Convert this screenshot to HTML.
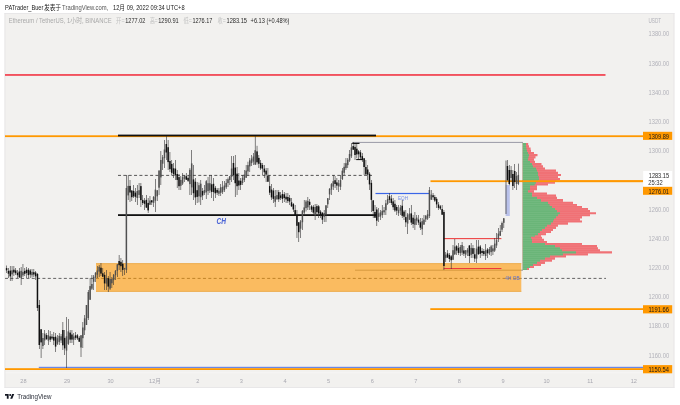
<!DOCTYPE html><html><head><meta charset="utf-8"><style>
html,body{margin:0;padding:0;background:#fff;width:680px;height:405px;overflow:hidden}
svg{position:absolute;left:0;top:0}
text{font-family:"Liberation Sans","Noto Sans CJK SC",sans-serif}
</style></head><body>
<svg width="680" height="405" viewBox="0 0 680 405">
<rect x="4.5" y="13" width="669.9" height="375" fill="#f2f1ef"/>
<rect x="4.5" y="372.5" width="669.9" height="0.6" fill="#f8f8f8"/>
<g fill="#e7e6e7"><rect x="4.5" y="13" width="669.9" height="0.9"/><rect x="4.5" y="387.1" width="669.9" height="0.9"/><rect x="4.5" y="13" width="0.9" height="375"/><rect x="673.5" y="13" width="0.9" height="375"/></g>
<text x="5.1" y="9.7" font-size="7.2" fill="#222" textLength="38.3" lengthAdjust="spacingAndGlyphs">PATrader_Buer</text>
<text x="43.9" y="9.7" font-size="6.6" fill="#222" textLength="17.2" lengthAdjust="spacingAndGlyphs">发表于</text>
<text x="62.1" y="9.7" font-size="7.2" fill="#555" textLength="46.1" lengthAdjust="spacingAndGlyphs">TradingView.com,</text>
<text x="113" y="9.7" font-size="7.2" fill="#222" textLength="71.6" lengthAdjust="spacingAndGlyphs">12月 09, 2022 09:34 UTC+8</text>
<text x="8.7" y="22.8" font-size="6.8" fill="#a9a9a9" textLength="102.9" lengthAdjust="spacingAndGlyphs">Ethereum / TetherUS, 1小时, BINANCE</text>
<text x="116.1" y="22.8" font-size="6.8" fill="#c2c2c2" textLength="8.6" lengthAdjust="spacingAndGlyphs">开=</text>
<text x="125.3" y="22.8" font-size="6.8" fill="#2a2a2a" textLength="20.0" lengthAdjust="spacingAndGlyphs">1277.02</text>
<text x="150" y="22.8" font-size="6.8" fill="#c2c2c2" textLength="7.6" lengthAdjust="spacingAndGlyphs">高=</text>
<text x="158.2" y="22.8" font-size="6.8" fill="#2a2a2a" textLength="20.6" lengthAdjust="spacingAndGlyphs">1290.91</text>
<text x="183.5" y="22.8" font-size="6.8" fill="#c2c2c2" textLength="8.3" lengthAdjust="spacingAndGlyphs">低=</text>
<text x="192.4" y="22.8" font-size="6.8" fill="#2a2a2a" textLength="20.0" lengthAdjust="spacingAndGlyphs">1276.17</text>
<text x="217.6" y="22.8" font-size="6.8" fill="#c2c2c2" textLength="8.3" lengthAdjust="spacingAndGlyphs">收=</text>
<text x="226.5" y="22.8" font-size="6.8" fill="#2a2a2a" textLength="20.5" lengthAdjust="spacingAndGlyphs">1283.15</text>
<text x="250.6" y="22.8" font-size="6.8" fill="#2a2a2a" textLength="38.8" lengthAdjust="spacingAndGlyphs">+6.13 (+0.48%)</text>
<rect x="5" y="74" width="600.5" height="1.9" fill="#f2525e"/>
<rect x="5" y="135.3" width="638" height="1.8" fill="#ff9800"/>
<rect x="118" y="134.6" width="258" height="1.8" fill="#111"/>
<rect x="352.5" y="141.9" width="170.5" height="1" fill="#9a9aa6"/>
<rect x="355" y="269.7" width="168" height="1" fill="#9a9a9a"/>
<line x1="118" y1="175.4" x2="372" y2="175.4" stroke="#444" stroke-width="0.9" stroke-dasharray="3 2.35"/>
<rect x="118" y="214.2" width="258" height="1.8" fill="#111"/>
<text x="216.4" y="223.6" font-size="8.2" font-style="italic" font-weight="bold" fill="#4a63d6" textLength="9.5" lengthAdjust="spacingAndGlyphs">CH</text>
<rect x="375.5" y="192.9" width="54.5" height="1.2" fill="#3a66e8"/>
<text x="398" y="199.6" font-size="4.8" fill="#4a6be0" fill-opacity="0.75" textLength="10" lengthAdjust="spacingAndGlyphs">EQH</text>
<rect x="430.5" y="180.3" width="212.5" height="1.8" fill="#ff9800"/>
<line x1="5" y1="278.4" x2="606" y2="278.4" stroke="#555" stroke-width="0.9" stroke-dasharray="3 2.35"/>
<rect x="96" y="263.3" width="425.3" height="28.4" fill="#ff9800" fill-opacity="0.6"/>
<rect x="96" y="263.3" width="425.3" height="0.8" fill="#eaa84a"/>
<rect x="96" y="290.9" width="425.3" height="0.8" fill="#eaa84a"/>
<rect x="443.6" y="238.1" width="57.8" height="1.05" fill="#ee3a3a"/>
<rect x="443.6" y="268.0" width="57.8" height="1.05" fill="#ee3a3a"/>
<text x="505.3" y="279.7" font-size="4.8" fill="#5a6fd0" textLength="14.3" lengthAdjust="spacingAndGlyphs">4H OB</text>
<rect x="430.3" y="308.2" width="212.7" height="1.8" fill="#ff9800"/>
<rect x="38.8" y="366.8" width="604.2" height="1.4" fill="#6b87e6"/>
<rect x="5" y="368.2" width="638" height="1.8" fill="#ff9800"/>
<path d="M522.6 143.10 H528.20 V145.30 H529.00 V147.50 H530.60 V149.70 H531.00 V151.90 H534.00 V154.10 H537.50 V156.30 H535.50 V158.50 H534.00 V160.70 H535.00 V163.00 H541.50 V165.20 H543.00 V167.40 H545.00 V169.60 H556.00 V171.80 H558.00 V174.10 H561.00 V176.10 H558.00 V178.10 H560.00 V180.20 H556.00 V182.00 H555.00 V183.80 H548.00 V185.50 H537.00 V187.90 H537.00 V190.20 H534.00 V192.60 H547.00 V194.40 H556.00 V196.70 H557.00 V199.10 H563.00 V201.70 H573.00 V203.90 H577.00 V205.90 H582.00 V208.00 H588.00 V210.00 H590.00 V212.20 H596.00 V214.20 H590.00 V216.30 H582.00 V218.40 H580.00 V220.50 H582.00 V222.60 H568.00 V224.70 H558.00 V226.80 H556.00 V228.90 H553.00 V231.00 H551.00 V233.10 H546.00 V235.20 H541.00 V236.70 H542.00 V238.80 H544.00 V240.90 H547.00 V243.00 H582.00 V245.00 H597.00 V247.20 H598.00 V249.30 H600.00 V251.30 H612.00 V253.40 H588.00 V255.50 H566.00 V257.60 H555.00 V259.70 H552.00 V261.80 H545.00 V263.90 H541.00 V266.00 H534.00 V268.10 H529.00 V270.00 H522.6 Z" fill="#f07175"/>
<path d="M522.6 143.10 H526.00 V145.30 H526.00 V147.50 H526.50 V149.70 H527.00 V151.90 H528.00 V154.10 H529.00 V156.30 H528.50 V158.50 H528.00 V160.70 H530.00 V163.00 H532.00 V165.20 H533.00 V167.40 H536.00 V169.60 H537.00 V171.80 H538.00 V174.10 H538.00 V176.10 H538.80 V178.10 H539.00 V180.20 H538.00 V182.00 H536.00 V183.80 H534.70 V185.50 H530.00 V187.90 H530.00 V190.20 H528.00 V192.60 H532.00 V194.40 H532.00 V196.70 H537.00 V199.10 H541.00 V201.70 H548.00 V203.90 H549.60 V205.90 H552.00 V208.00 H555.00 V210.00 H557.00 V212.20 H560.00 V214.20 H558.00 V216.30 H556.00 V218.40 H554.00 V220.50 H553.00 V222.60 H551.00 V224.70 H547.00 V226.80 H545.00 V228.90 H542.00 V231.00 H540.00 V233.10 H538.00 V235.20 H535.00 V236.70 H531.00 V238.80 H532.00 V240.90 H532.00 V243.00 H545.00 V245.00 H555.00 V247.20 H560.00 V249.30 H562.00 V251.30 H576.00 V253.40 H563.00 V255.50 H550.00 V257.60 H545.00 V259.70 H540.00 V261.80 H537.00 V263.90 H533.00 V266.00 H530.00 V268.10 H527.00 V270.00 H522.6 Z" fill="#6ab578"/>
<rect x="522.6" y="145.18" width="5.60" height="0.24" fill="#ffffff" fill-opacity="0.25"/>
<rect x="522.6" y="147.38" width="6.40" height="0.24" fill="#ffffff" fill-opacity="0.25"/>
<rect x="522.6" y="149.58" width="8.00" height="0.24" fill="#ffffff" fill-opacity="0.25"/>
<rect x="522.6" y="151.78" width="8.40" height="0.24" fill="#ffffff" fill-opacity="0.25"/>
<rect x="522.6" y="153.98" width="11.40" height="0.24" fill="#ffffff" fill-opacity="0.25"/>
<rect x="522.6" y="156.18" width="14.90" height="0.24" fill="#ffffff" fill-opacity="0.25"/>
<rect x="522.6" y="158.38" width="12.90" height="0.24" fill="#ffffff" fill-opacity="0.25"/>
<rect x="522.6" y="160.58" width="11.40" height="0.24" fill="#ffffff" fill-opacity="0.25"/>
<rect x="522.6" y="162.88" width="12.40" height="0.24" fill="#ffffff" fill-opacity="0.25"/>
<rect x="522.6" y="165.08" width="18.90" height="0.24" fill="#ffffff" fill-opacity="0.25"/>
<rect x="522.6" y="167.28" width="20.40" height="0.24" fill="#ffffff" fill-opacity="0.25"/>
<rect x="522.6" y="169.48" width="22.40" height="0.24" fill="#ffffff" fill-opacity="0.25"/>
<rect x="522.6" y="171.68" width="33.40" height="0.24" fill="#ffffff" fill-opacity="0.25"/>
<rect x="522.6" y="173.98" width="35.40" height="0.24" fill="#ffffff" fill-opacity="0.25"/>
<rect x="522.6" y="175.98" width="38.40" height="0.24" fill="#ffffff" fill-opacity="0.25"/>
<rect x="522.6" y="177.98" width="35.40" height="0.24" fill="#ffffff" fill-opacity="0.25"/>
<rect x="522.6" y="180.08" width="37.40" height="0.24" fill="#ffffff" fill-opacity="0.25"/>
<rect x="522.6" y="181.88" width="33.40" height="0.24" fill="#ffffff" fill-opacity="0.25"/>
<rect x="522.6" y="183.68" width="32.40" height="0.24" fill="#ffffff" fill-opacity="0.25"/>
<rect x="522.6" y="185.38" width="25.40" height="0.24" fill="#ffffff" fill-opacity="0.25"/>
<rect x="522.6" y="187.78" width="14.40" height="0.24" fill="#ffffff" fill-opacity="0.25"/>
<rect x="522.6" y="190.08" width="14.40" height="0.24" fill="#ffffff" fill-opacity="0.25"/>
<rect x="522.6" y="192.48" width="11.40" height="0.24" fill="#ffffff" fill-opacity="0.25"/>
<rect x="522.6" y="194.28" width="24.40" height="0.24" fill="#ffffff" fill-opacity="0.25"/>
<rect x="522.6" y="196.58" width="33.40" height="0.24" fill="#ffffff" fill-opacity="0.25"/>
<rect x="522.6" y="198.98" width="34.40" height="0.24" fill="#ffffff" fill-opacity="0.25"/>
<rect x="522.6" y="201.58" width="40.40" height="0.24" fill="#ffffff" fill-opacity="0.25"/>
<rect x="522.6" y="203.78" width="50.40" height="0.24" fill="#ffffff" fill-opacity="0.25"/>
<rect x="522.6" y="205.78" width="54.40" height="0.24" fill="#ffffff" fill-opacity="0.25"/>
<rect x="522.6" y="207.88" width="59.40" height="0.24" fill="#ffffff" fill-opacity="0.25"/>
<rect x="522.6" y="209.88" width="65.40" height="0.24" fill="#ffffff" fill-opacity="0.25"/>
<rect x="522.6" y="212.08" width="67.40" height="0.24" fill="#ffffff" fill-opacity="0.25"/>
<rect x="522.6" y="214.08" width="73.40" height="0.24" fill="#ffffff" fill-opacity="0.25"/>
<rect x="522.6" y="216.18" width="67.40" height="0.24" fill="#ffffff" fill-opacity="0.25"/>
<rect x="522.6" y="218.28" width="59.40" height="0.24" fill="#ffffff" fill-opacity="0.25"/>
<rect x="522.6" y="220.38" width="57.40" height="0.24" fill="#ffffff" fill-opacity="0.25"/>
<rect x="522.6" y="222.48" width="59.40" height="0.24" fill="#ffffff" fill-opacity="0.25"/>
<rect x="522.6" y="224.58" width="45.40" height="0.24" fill="#ffffff" fill-opacity="0.25"/>
<rect x="522.6" y="226.68" width="35.40" height="0.24" fill="#ffffff" fill-opacity="0.25"/>
<rect x="522.6" y="228.78" width="33.40" height="0.24" fill="#ffffff" fill-opacity="0.25"/>
<rect x="522.6" y="230.88" width="30.40" height="0.24" fill="#ffffff" fill-opacity="0.25"/>
<rect x="522.6" y="232.98" width="28.40" height="0.24" fill="#ffffff" fill-opacity="0.25"/>
<rect x="522.6" y="235.08" width="23.40" height="0.24" fill="#ffffff" fill-opacity="0.25"/>
<rect x="522.6" y="236.58" width="18.40" height="0.24" fill="#ffffff" fill-opacity="0.25"/>
<rect x="522.6" y="238.68" width="19.40" height="0.24" fill="#ffffff" fill-opacity="0.25"/>
<rect x="522.6" y="240.78" width="21.40" height="0.24" fill="#ffffff" fill-opacity="0.25"/>
<rect x="522.6" y="242.88" width="24.40" height="0.24" fill="#ffffff" fill-opacity="0.25"/>
<rect x="522.6" y="244.88" width="59.40" height="0.24" fill="#ffffff" fill-opacity="0.25"/>
<rect x="522.6" y="247.08" width="74.40" height="0.24" fill="#ffffff" fill-opacity="0.25"/>
<rect x="522.6" y="249.18" width="75.40" height="0.24" fill="#ffffff" fill-opacity="0.25"/>
<rect x="522.6" y="251.18" width="77.40" height="0.24" fill="#ffffff" fill-opacity="0.25"/>
<rect x="522.6" y="253.28" width="89.40" height="0.24" fill="#ffffff" fill-opacity="0.25"/>
<rect x="522.6" y="255.38" width="65.40" height="0.24" fill="#ffffff" fill-opacity="0.25"/>
<rect x="522.6" y="257.48" width="43.40" height="0.24" fill="#ffffff" fill-opacity="0.25"/>
<rect x="522.6" y="259.58" width="32.40" height="0.24" fill="#ffffff" fill-opacity="0.25"/>
<rect x="522.6" y="261.68" width="29.40" height="0.24" fill="#ffffff" fill-opacity="0.25"/>
<rect x="522.6" y="263.78" width="22.40" height="0.24" fill="#ffffff" fill-opacity="0.25"/>
<rect x="522.6" y="265.88" width="18.40" height="0.24" fill="#ffffff" fill-opacity="0.25"/>
<rect x="522.6" y="267.98" width="11.40" height="0.24" fill="#ffffff" fill-opacity="0.25"/>
<rect x="522" y="180.3" width="121" height="1.8" fill="#ff9800"/>
<rect x="6.31" y="265.5" width="0.6" height="7.5" fill="#333"/>
<rect x="5.86" y="268.1" width="1.5" height="2.3" fill="#101010"/>
<rect x="8.13" y="268.0" width="0.6" height="10.0" fill="#333"/>
<rect x="7.68" y="270.9" width="1.5" height="2.8" fill="#101010"/>
<rect x="9.94" y="266.0" width="0.6" height="15.0" fill="#333"/>
<rect x="9.49" y="270.6" width="1.5" height="5.8" fill="#101010"/>
<rect x="11.76" y="266.0" width="0.6" height="15.0" fill="#333"/>
<rect x="11.31" y="270.3" width="1.5" height="4.1" fill="#505050"/>
<rect x="13.57" y="266.0" width="0.6" height="10.0" fill="#333"/>
<rect x="13.12" y="269.7" width="1.5" height="2.8" fill="#101010"/>
<rect x="15.39" y="268.0" width="0.6" height="7.0" fill="#333"/>
<rect x="14.94" y="270.4" width="1.5" height="2.8" fill="#101010"/>
<rect x="17.20" y="270.0" width="0.6" height="8.0" fill="#333"/>
<rect x="16.75" y="272.8" width="1.5" height="2.4" fill="#101010"/>
<rect x="19.02" y="268.0" width="0.6" height="10.0" fill="#333"/>
<rect x="18.57" y="271.5" width="1.5" height="5.8" fill="#101010"/>
<rect x="20.83" y="267.0" width="0.6" height="18.0" fill="#333"/>
<rect x="20.38" y="270.8" width="1.5" height="7.1" fill="#505050"/>
<rect x="22.65" y="264.0" width="0.6" height="13.0" fill="#333"/>
<rect x="22.20" y="271.8" width="1.5" height="3.6" fill="#505050"/>
<rect x="24.46" y="268.0" width="0.6" height="8.0" fill="#333"/>
<rect x="24.01" y="270.9" width="1.5" height="2.9" fill="#101010"/>
<rect x="26.27" y="267.0" width="0.6" height="11.0" fill="#333"/>
<rect x="25.82" y="269.8" width="1.5" height="3.3" fill="#101010"/>
<rect x="28.09" y="268.0" width="0.6" height="10.0" fill="#333"/>
<rect x="27.64" y="269.7" width="1.5" height="5.4" fill="#101010"/>
<rect x="29.90" y="269.0" width="0.6" height="9.0" fill="#333"/>
<rect x="29.45" y="270.5" width="1.5" height="4.1" fill="#101010"/>
<rect x="31.72" y="269.0" width="0.6" height="8.5" fill="#333"/>
<rect x="31.27" y="271.9" width="1.5" height="3.3" fill="#505050"/>
<rect x="33.53" y="269.0" width="0.6" height="8.0" fill="#333"/>
<rect x="33.08" y="272.2" width="1.5" height="2.3" fill="#101010"/>
<rect x="35.35" y="271.0" width="0.6" height="9.0" fill="#333"/>
<rect x="34.90" y="272.5" width="1.5" height="3.8" fill="#101010"/>
<rect x="37.16" y="273.0" width="0.6" height="38.0" fill="#333"/>
<rect x="36.71" y="274.0" width="1.5" height="34.0" fill="#101010"/>
<rect x="38.98" y="300.0" width="0.6" height="49.0" fill="#333"/>
<rect x="38.53" y="305.0" width="1.5" height="40.0" fill="#101010"/>
<rect x="40.79" y="329.0" width="0.6" height="29.0" fill="#333"/>
<rect x="40.34" y="329.3" width="1.5" height="13.1" fill="#101010"/>
<rect x="42.61" y="333.0" width="0.6" height="16.0" fill="#333"/>
<rect x="42.16" y="338.0" width="1.5" height="8.0" fill="#505050"/>
<rect x="44.42" y="330.0" width="0.6" height="15.0" fill="#333"/>
<rect x="43.97" y="333.6" width="1.5" height="6.8" fill="#505050"/>
<rect x="46.24" y="333.0" width="0.6" height="7.0" fill="#333"/>
<rect x="45.79" y="335.1" width="1.5" height="3.9" fill="#101010"/>
<rect x="48.05" y="330.0" width="0.6" height="15.0" fill="#333"/>
<rect x="47.60" y="335.2" width="1.5" height="5.4" fill="#505050"/>
<rect x="49.86" y="331.0" width="0.6" height="11.0" fill="#333"/>
<rect x="49.41" y="336.4" width="1.5" height="3.3" fill="#101010"/>
<rect x="51.68" y="334.0" width="0.6" height="6.0" fill="#333"/>
<rect x="51.23" y="336.6" width="1.5" height="1.9" fill="#101010"/>
<rect x="53.49" y="332.0" width="0.6" height="13.0" fill="#333"/>
<rect x="53.04" y="337.0" width="1.5" height="3.6" fill="#101010"/>
<rect x="55.31" y="333.0" width="0.6" height="19.0" fill="#333"/>
<rect x="54.86" y="336.7" width="1.5" height="9.9" fill="#101010"/>
<rect x="57.12" y="335.0" width="0.6" height="10.0" fill="#333"/>
<rect x="56.67" y="338.2" width="1.5" height="5.6" fill="#505050"/>
<rect x="58.94" y="333.0" width="0.6" height="12.0" fill="#333"/>
<rect x="58.49" y="335.9" width="1.5" height="6.0" fill="#505050"/>
<rect x="60.75" y="334.0" width="0.6" height="9.0" fill="#333"/>
<rect x="60.30" y="336.3" width="1.5" height="4.1" fill="#505050"/>
<rect x="62.57" y="322.0" width="0.6" height="28.0" fill="#333"/>
<rect x="62.12" y="330.0" width="1.5" height="15.3" fill="#101010"/>
<rect x="64.38" y="330.0" width="0.6" height="25.0" fill="#333"/>
<rect x="63.93" y="337.9" width="1.5" height="10.5" fill="#101010"/>
<rect x="66.20" y="317.0" width="0.6" height="51.0" fill="#333"/>
<rect x="65.75" y="336.3" width="1.5" height="14.3" fill="#505050"/>
<rect x="68.01" y="319.0" width="0.6" height="26.0" fill="#333"/>
<rect x="67.56" y="331.4" width="1.5" height="12.5" fill="#505050"/>
<rect x="69.83" y="330.0" width="0.6" height="13.0" fill="#333"/>
<rect x="69.38" y="332.6" width="1.5" height="7.0" fill="#101010"/>
<rect x="71.64" y="330.0" width="0.6" height="13.0" fill="#333"/>
<rect x="71.19" y="334.5" width="1.5" height="5.1" fill="#101010"/>
<rect x="73.45" y="333.0" width="0.6" height="12.0" fill="#333"/>
<rect x="73.00" y="336.5" width="1.5" height="3.2" fill="#505050"/>
<rect x="75.27" y="332.0" width="0.6" height="8.0" fill="#333"/>
<rect x="74.82" y="335.3" width="1.5" height="2.5" fill="#101010"/>
<rect x="77.08" y="334.0" width="0.6" height="6.0" fill="#333"/>
<rect x="76.63" y="335.3" width="1.5" height="3.1" fill="#101010"/>
<rect x="78.90" y="336.0" width="0.6" height="6.0" fill="#333"/>
<rect x="78.45" y="337.8" width="1.5" height="3.9" fill="#101010"/>
<rect x="80.71" y="335.0" width="0.6" height="22.0" fill="#333"/>
<rect x="80.26" y="335.3" width="1.5" height="12.2" fill="#505050"/>
<rect x="82.53" y="322.0" width="0.6" height="26.0" fill="#333"/>
<rect x="82.08" y="327.5" width="1.5" height="10.7" fill="#505050"/>
<rect x="84.34" y="315.0" width="0.6" height="20.0" fill="#333"/>
<rect x="83.89" y="318.3" width="1.5" height="12.0" fill="#505050"/>
<rect x="86.16" y="305.0" width="0.6" height="20.0" fill="#333"/>
<rect x="85.71" y="305.0" width="1.5" height="20.0" fill="#505050"/>
<rect x="87.97" y="290.0" width="0.6" height="30.0" fill="#333"/>
<rect x="87.52" y="292.0" width="1.5" height="26.0" fill="#505050"/>
<rect x="89.79" y="278.0" width="0.6" height="22.0" fill="#333"/>
<rect x="89.34" y="286.1" width="1.5" height="13.6" fill="#505050"/>
<rect x="91.60" y="275.0" width="0.6" height="15.0" fill="#333"/>
<rect x="91.15" y="284.0" width="1.5" height="4.7" fill="#505050"/>
<rect x="93.41" y="275.0" width="0.6" height="15.0" fill="#333"/>
<rect x="92.96" y="276.7" width="1.5" height="5.1" fill="#505050"/>
<rect x="95.23" y="272.0" width="0.6" height="10.0" fill="#333"/>
<rect x="94.78" y="272.8" width="1.5" height="4.9" fill="#505050"/>
<rect x="97.04" y="266.0" width="0.6" height="12.0" fill="#333"/>
<rect x="96.59" y="270.5" width="1.5" height="4.2" fill="#505050"/>
<rect x="98.86" y="265.0" width="0.6" height="12.0" fill="#333"/>
<rect x="98.41" y="266.8" width="1.5" height="4.8" fill="#505050"/>
<rect x="100.67" y="263.0" width="0.6" height="13.0" fill="#333"/>
<rect x="100.22" y="267.7" width="1.5" height="5.9" fill="#101010"/>
<rect x="102.49" y="268.0" width="0.6" height="9.0" fill="#333"/>
<rect x="102.04" y="273.3" width="1.5" height="3.4" fill="#101010"/>
<rect x="104.30" y="272.0" width="0.6" height="18.0" fill="#333"/>
<rect x="103.85" y="274.9" width="1.5" height="8.5" fill="#101010"/>
<rect x="106.12" y="270.0" width="0.6" height="20.0" fill="#333"/>
<rect x="105.67" y="278.0" width="1.5" height="5.6" fill="#505050"/>
<rect x="107.93" y="276.0" width="0.6" height="16.0" fill="#333"/>
<rect x="107.48" y="278.2" width="1.5" height="8.4" fill="#101010"/>
<rect x="109.75" y="272.0" width="0.6" height="18.0" fill="#333"/>
<rect x="109.30" y="279.0" width="1.5" height="9.6" fill="#505050"/>
<rect x="111.56" y="277.0" width="0.6" height="11.0" fill="#333"/>
<rect x="111.11" y="278.9" width="1.5" height="4.4" fill="#505050"/>
<rect x="113.38" y="274.0" width="0.6" height="11.0" fill="#333"/>
<rect x="112.93" y="274.9" width="1.5" height="5.2" fill="#505050"/>
<rect x="115.19" y="270.0" width="0.6" height="10.0" fill="#333"/>
<rect x="114.74" y="270.8" width="1.5" height="4.4" fill="#505050"/>
<rect x="117.00" y="264.0" width="0.6" height="13.0" fill="#333"/>
<rect x="116.55" y="264.3" width="1.5" height="6.6" fill="#505050"/>
<rect x="118.82" y="255.0" width="0.6" height="15.0" fill="#333"/>
<rect x="118.37" y="261.0" width="1.5" height="4.2" fill="#101010"/>
<rect x="120.63" y="258.0" width="0.6" height="14.0" fill="#333"/>
<rect x="120.18" y="261.8" width="1.5" height="4.4" fill="#101010"/>
<rect x="122.45" y="260.0" width="0.6" height="16.0" fill="#333"/>
<rect x="122.00" y="263.8" width="1.5" height="6.1" fill="#101010"/>
<rect x="124.26" y="268.0" width="0.6" height="7.0" fill="#333"/>
<rect x="123.81" y="267.9" width="1.5" height="1.2" fill="#505050"/>
<rect x="126.08" y="175.0" width="0.6" height="98.0" fill="#333"/>
<rect x="125.63" y="188.0" width="1.5" height="82.0" fill="#505050"/>
<rect x="127.89" y="175.0" width="0.6" height="25.0" fill="#333"/>
<rect x="127.44" y="185.9" width="1.5" height="9.5" fill="#505050"/>
<rect x="129.71" y="180.0" width="0.6" height="22.0" fill="#333"/>
<rect x="129.26" y="185.9" width="1.5" height="6.6" fill="#101010"/>
<rect x="131.52" y="190.0" width="0.6" height="11.0" fill="#333"/>
<rect x="131.07" y="190.6" width="1.5" height="6.6" fill="#101010"/>
<rect x="133.34" y="185.0" width="0.6" height="13.0" fill="#333"/>
<rect x="132.89" y="190.9" width="1.5" height="5.5" fill="#101010"/>
<rect x="135.15" y="188.0" width="0.6" height="14.0" fill="#333"/>
<rect x="134.70" y="192.6" width="1.5" height="4.2" fill="#101010"/>
<rect x="136.97" y="185.0" width="0.6" height="20.0" fill="#333"/>
<rect x="136.52" y="191.0" width="1.5" height="7.0" fill="#505050"/>
<rect x="138.78" y="183.0" width="0.6" height="15.0" fill="#333"/>
<rect x="138.33" y="190.2" width="1.5" height="4.7" fill="#505050"/>
<rect x="140.59" y="183.0" width="0.6" height="24.0" fill="#333"/>
<rect x="140.14" y="186.1" width="1.5" height="14.0" fill="#101010"/>
<rect x="142.41" y="195.0" width="0.6" height="10.0" fill="#333"/>
<rect x="141.96" y="199.9" width="1.5" height="3.1" fill="#101010"/>
<rect x="144.22" y="198.0" width="0.6" height="12.0" fill="#333"/>
<rect x="143.77" y="200.6" width="1.5" height="3.2" fill="#101010"/>
<rect x="146.04" y="195.0" width="0.6" height="13.0" fill="#333"/>
<rect x="145.59" y="199.9" width="1.5" height="7.7" fill="#101010"/>
<rect x="147.85" y="198.0" width="0.6" height="15.0" fill="#333"/>
<rect x="147.40" y="202.9" width="1.5" height="7.5" fill="#101010"/>
<rect x="149.67" y="196.0" width="0.6" height="9.0" fill="#333"/>
<rect x="149.22" y="200.5" width="1.5" height="4.2" fill="#505050"/>
<rect x="151.48" y="200.0" width="0.6" height="5.0" fill="#333"/>
<rect x="151.03" y="200.3" width="1.5" height="2.1" fill="#101010"/>
<rect x="153.30" y="196.0" width="0.6" height="11.0" fill="#333"/>
<rect x="152.85" y="197.0" width="1.5" height="5.8" fill="#505050"/>
<rect x="155.11" y="179.0" width="0.6" height="33.0" fill="#333"/>
<rect x="154.66" y="189.6" width="1.5" height="11.1" fill="#505050"/>
<rect x="156.93" y="190.0" width="0.6" height="11.0" fill="#333"/>
<rect x="156.48" y="190.3" width="1.5" height="6.0" fill="#505050"/>
<rect x="158.74" y="170.0" width="0.6" height="25.0" fill="#333"/>
<rect x="158.29" y="170.7" width="1.5" height="17.0" fill="#505050"/>
<rect x="160.56" y="151.0" width="0.6" height="34.0" fill="#333"/>
<rect x="160.11" y="160.0" width="1.5" height="17.4" fill="#505050"/>
<rect x="162.37" y="155.0" width="0.6" height="15.0" fill="#333"/>
<rect x="161.92" y="157.2" width="1.5" height="6.5" fill="#505050"/>
<rect x="164.18" y="140.0" width="0.6" height="28.0" fill="#333"/>
<rect x="163.73" y="149.5" width="1.5" height="8.7" fill="#505050"/>
<rect x="166.00" y="136.0" width="0.6" height="24.0" fill="#333"/>
<rect x="165.55" y="144.0" width="1.5" height="8.5" fill="#101010"/>
<rect x="167.81" y="140.0" width="0.6" height="30.0" fill="#333"/>
<rect x="167.36" y="147.2" width="1.5" height="14.9" fill="#101010"/>
<rect x="169.63" y="152.0" width="0.6" height="20.0" fill="#333"/>
<rect x="169.18" y="161.0" width="1.5" height="8.2" fill="#101010"/>
<rect x="171.44" y="160.0" width="0.6" height="15.0" fill="#333"/>
<rect x="170.99" y="163.9" width="1.5" height="8.9" fill="#101010"/>
<rect x="173.26" y="163.0" width="0.6" height="15.0" fill="#333"/>
<rect x="172.81" y="168.3" width="1.5" height="5.8" fill="#101010"/>
<rect x="175.07" y="160.0" width="0.6" height="20.0" fill="#333"/>
<rect x="174.62" y="168.6" width="1.5" height="6.7" fill="#101010"/>
<rect x="176.89" y="170.0" width="0.6" height="18.0" fill="#333"/>
<rect x="176.44" y="174.0" width="1.5" height="5.9" fill="#101010"/>
<rect x="178.70" y="174.0" width="0.6" height="16.0" fill="#333"/>
<rect x="178.25" y="177.1" width="1.5" height="9.1" fill="#101010"/>
<rect x="180.52" y="176.0" width="0.6" height="14.0" fill="#333"/>
<rect x="180.07" y="179.9" width="1.5" height="5.9" fill="#505050"/>
<rect x="182.33" y="173.0" width="0.6" height="12.0" fill="#333"/>
<rect x="181.88" y="177.1" width="1.5" height="6.4" fill="#505050"/>
<rect x="184.14" y="175.0" width="0.6" height="7.0" fill="#333"/>
<rect x="183.69" y="175.5" width="1.5" height="3.4" fill="#505050"/>
<rect x="185.96" y="173.0" width="0.6" height="7.0" fill="#333"/>
<rect x="185.51" y="176.2" width="1.5" height="3.5" fill="#101010"/>
<rect x="187.77" y="175.0" width="0.6" height="7.0" fill="#333"/>
<rect x="187.32" y="177.8" width="1.5" height="3.0" fill="#101010"/>
<rect x="189.59" y="168.0" width="0.6" height="27.0" fill="#333"/>
<rect x="189.14" y="169.8" width="1.5" height="14.3" fill="#505050"/>
<rect x="191.40" y="150.0" width="0.6" height="45.0" fill="#333"/>
<rect x="190.95" y="163.4" width="1.5" height="24.0" fill="#505050"/>
<rect x="193.22" y="165.0" width="0.6" height="35.0" fill="#333"/>
<rect x="192.77" y="179.4" width="1.5" height="13.8" fill="#101010"/>
<rect x="195.03" y="178.0" width="0.6" height="27.0" fill="#333"/>
<rect x="194.58" y="181.7" width="1.5" height="15.7" fill="#101010"/>
<rect x="196.85" y="182.0" width="0.6" height="21.0" fill="#333"/>
<rect x="196.40" y="190.2" width="1.5" height="6.7" fill="#101010"/>
<rect x="198.66" y="182.6" width="0.6" height="19.8" fill="#333"/>
<rect x="198.21" y="185.2" width="1.5" height="11.2" fill="#505050"/>
<rect x="200.48" y="180.0" width="0.6" height="25.0" fill="#333"/>
<rect x="200.03" y="183.7" width="1.5" height="13.5" fill="#505050"/>
<rect x="202.29" y="188.0" width="0.6" height="12.0" fill="#333"/>
<rect x="201.84" y="191.0" width="1.5" height="4.5" fill="#101010"/>
<rect x="204.11" y="185.0" width="0.6" height="10.0" fill="#333"/>
<rect x="203.66" y="190.0" width="1.5" height="3.1" fill="#505050"/>
<rect x="205.92" y="180.0" width="0.6" height="19.0" fill="#333"/>
<rect x="205.47" y="181.2" width="1.5" height="11.2" fill="#505050"/>
<rect x="207.73" y="177.0" width="0.6" height="18.0" fill="#333"/>
<rect x="207.28" y="183.2" width="1.5" height="7.9" fill="#505050"/>
<rect x="209.55" y="175.0" width="0.6" height="18.0" fill="#333"/>
<rect x="209.10" y="183.2" width="1.5" height="7.3" fill="#505050"/>
<rect x="211.36" y="175.0" width="0.6" height="23.0" fill="#333"/>
<rect x="210.91" y="184.3" width="1.5" height="7.6" fill="#101010"/>
<rect x="213.18" y="178.0" width="0.6" height="23.0" fill="#333"/>
<rect x="212.73" y="183.8" width="1.5" height="8.3" fill="#101010"/>
<rect x="214.99" y="186.0" width="0.6" height="12.0" fill="#333"/>
<rect x="214.54" y="187.8" width="1.5" height="5.5" fill="#101010"/>
<rect x="216.81" y="188.0" width="0.6" height="7.0" fill="#333"/>
<rect x="216.36" y="189.9" width="1.5" height="2.8" fill="#101010"/>
<rect x="218.62" y="188.0" width="0.6" height="8.0" fill="#333"/>
<rect x="218.17" y="190.7" width="1.5" height="3.0" fill="#505050"/>
<rect x="220.44" y="184.0" width="0.6" height="12.0" fill="#333"/>
<rect x="219.99" y="187.3" width="1.5" height="5.5" fill="#505050"/>
<rect x="222.25" y="181.0" width="0.6" height="13.0" fill="#333"/>
<rect x="221.80" y="186.9" width="1.5" height="5.2" fill="#505050"/>
<rect x="224.07" y="181.0" width="0.6" height="11.0" fill="#333"/>
<rect x="223.62" y="185.5" width="1.5" height="4.7" fill="#505050"/>
<rect x="225.88" y="179.0" width="0.6" height="10.0" fill="#333"/>
<rect x="225.43" y="182.9" width="1.5" height="4.4" fill="#505050"/>
<rect x="227.70" y="177.5" width="0.6" height="9.5" fill="#333"/>
<rect x="227.25" y="179.2" width="1.5" height="3.9" fill="#505050"/>
<rect x="229.51" y="176.0" width="0.6" height="9.0" fill="#333"/>
<rect x="229.06" y="176.3" width="1.5" height="3.7" fill="#505050"/>
<rect x="231.32" y="156.0" width="0.6" height="26.0" fill="#333"/>
<rect x="230.87" y="168.5" width="1.5" height="8.3" fill="#505050"/>
<rect x="233.14" y="156.0" width="0.6" height="24.0" fill="#333"/>
<rect x="232.69" y="163.0" width="1.5" height="12.2" fill="#101010"/>
<rect x="234.95" y="155.0" width="0.6" height="42.0" fill="#333"/>
<rect x="234.50" y="167.6" width="1.5" height="15.6" fill="#101010"/>
<rect x="236.77" y="167.0" width="0.6" height="28.0" fill="#333"/>
<rect x="236.32" y="173.6" width="1.5" height="12.6" fill="#101010"/>
<rect x="238.58" y="173.0" width="0.6" height="17.0" fill="#333"/>
<rect x="238.13" y="180.5" width="1.5" height="5.0" fill="#101010"/>
<rect x="240.40" y="178.0" width="0.6" height="12.0" fill="#333"/>
<rect x="239.95" y="180.8" width="1.5" height="4.1" fill="#101010"/>
<rect x="242.21" y="175.0" width="0.6" height="10.0" fill="#333"/>
<rect x="241.76" y="177.8" width="1.5" height="5.2" fill="#505050"/>
<rect x="244.03" y="170.0" width="0.6" height="12.0" fill="#333"/>
<rect x="243.58" y="174.6" width="1.5" height="5.4" fill="#505050"/>
<rect x="245.84" y="165.0" width="0.6" height="13.0" fill="#333"/>
<rect x="245.39" y="170.5" width="1.5" height="7.2" fill="#505050"/>
<rect x="247.66" y="161.7" width="0.6" height="13.5" fill="#333"/>
<rect x="247.21" y="165.1" width="1.5" height="6.3" fill="#505050"/>
<rect x="249.47" y="158.0" width="0.6" height="14.0" fill="#333"/>
<rect x="249.02" y="160.3" width="1.5" height="6.1" fill="#505050"/>
<rect x="251.29" y="155.0" width="0.6" height="11.0" fill="#333"/>
<rect x="250.84" y="158.5" width="1.5" height="4.6" fill="#505050"/>
<rect x="253.10" y="153.0" width="0.6" height="12.0" fill="#333"/>
<rect x="252.65" y="156.5" width="1.5" height="5.1" fill="#505050"/>
<rect x="254.91" y="136.0" width="0.6" height="29.0" fill="#333"/>
<rect x="254.46" y="150.2" width="1.5" height="14.4" fill="#505050"/>
<rect x="256.73" y="145.8" width="0.6" height="18.8" fill="#333"/>
<rect x="256.28" y="151.4" width="1.5" height="10.9" fill="#101010"/>
<rect x="258.54" y="155.0" width="0.6" height="13.0" fill="#333"/>
<rect x="258.09" y="157.9" width="1.5" height="5.9" fill="#101010"/>
<rect x="260.36" y="160.0" width="0.6" height="10.0" fill="#333"/>
<rect x="259.91" y="162.9" width="1.5" height="5.5" fill="#101010"/>
<rect x="262.17" y="163.0" width="0.6" height="12.0" fill="#333"/>
<rect x="261.72" y="165.0" width="1.5" height="3.6" fill="#101010"/>
<rect x="263.99" y="165.0" width="0.6" height="13.0" fill="#333"/>
<rect x="263.54" y="168.6" width="1.5" height="3.7" fill="#101010"/>
<rect x="265.80" y="168.0" width="0.6" height="14.0" fill="#333"/>
<rect x="265.35" y="170.6" width="1.5" height="4.0" fill="#101010"/>
<rect x="267.62" y="168.0" width="0.6" height="14.0" fill="#333"/>
<rect x="267.17" y="175.7" width="1.5" height="6.0" fill="#101010"/>
<rect x="269.43" y="175.0" width="0.6" height="20.0" fill="#333"/>
<rect x="268.98" y="186.1" width="1.5" height="6.6" fill="#101010"/>
<rect x="271.25" y="184.0" width="0.6" height="16.0" fill="#333"/>
<rect x="270.80" y="189.6" width="1.5" height="7.8" fill="#101010"/>
<rect x="273.06" y="188.0" width="0.6" height="15.0" fill="#333"/>
<rect x="272.61" y="190.5" width="1.5" height="8.4" fill="#101010"/>
<rect x="274.88" y="190.0" width="0.6" height="17.0" fill="#333"/>
<rect x="274.43" y="196.1" width="1.5" height="5.7" fill="#505050"/>
<rect x="276.69" y="190.0" width="0.6" height="10.0" fill="#333"/>
<rect x="276.24" y="195.1" width="1.5" height="4.0" fill="#505050"/>
<rect x="278.50" y="190.0" width="0.6" height="12.0" fill="#333"/>
<rect x="278.05" y="192.1" width="1.5" height="7.2" fill="#101010"/>
<rect x="280.32" y="192.0" width="0.6" height="8.0" fill="#333"/>
<rect x="279.87" y="195.4" width="1.5" height="2.5" fill="#101010"/>
<rect x="282.13" y="190.0" width="0.6" height="13.0" fill="#333"/>
<rect x="281.68" y="194.0" width="1.5" height="4.9" fill="#101010"/>
<rect x="283.95" y="192.0" width="0.6" height="10.0" fill="#333"/>
<rect x="283.50" y="194.3" width="1.5" height="3.7" fill="#101010"/>
<rect x="285.76" y="193.0" width="0.6" height="10.0" fill="#333"/>
<rect x="285.31" y="196.7" width="1.5" height="2.7" fill="#101010"/>
<rect x="287.58" y="193.0" width="0.6" height="10.0" fill="#333"/>
<rect x="287.13" y="197.0" width="1.5" height="4.1" fill="#101010"/>
<rect x="289.39" y="195.0" width="0.6" height="10.0" fill="#333"/>
<rect x="288.94" y="197.9" width="1.5" height="3.7" fill="#101010"/>
<rect x="291.21" y="198.0" width="0.6" height="9.0" fill="#333"/>
<rect x="290.76" y="202.3" width="1.5" height="4.0" fill="#101010"/>
<rect x="293.02" y="203.0" width="0.6" height="9.0" fill="#333"/>
<rect x="292.57" y="204.1" width="1.5" height="5.4" fill="#101010"/>
<rect x="294.84" y="205.0" width="0.6" height="11.0" fill="#333"/>
<rect x="294.39" y="210.1" width="1.5" height="5.6" fill="#101010"/>
<rect x="296.65" y="210.0" width="0.6" height="28.0" fill="#333"/>
<rect x="296.20" y="214.9" width="1.5" height="10.9" fill="#101010"/>
<rect x="298.46" y="222.0" width="0.6" height="20.0" fill="#333"/>
<rect x="298.01" y="222.3" width="1.5" height="9.9" fill="#101010"/>
<rect x="300.28" y="220.0" width="0.6" height="18.0" fill="#333"/>
<rect x="299.83" y="221.4" width="1.5" height="7.3" fill="#505050"/>
<rect x="302.09" y="210.0" width="0.6" height="20.0" fill="#333"/>
<rect x="301.64" y="210.8" width="1.5" height="11.4" fill="#505050"/>
<rect x="303.91" y="200.0" width="0.6" height="15.0" fill="#333"/>
<rect x="303.46" y="207.4" width="1.5" height="5.2" fill="#505050"/>
<rect x="305.72" y="200.0" width="0.6" height="11.5" fill="#333"/>
<rect x="305.27" y="201.5" width="1.5" height="6.6" fill="#505050"/>
<rect x="307.54" y="197.0" width="0.6" height="13.0" fill="#333"/>
<rect x="307.09" y="200.9" width="1.5" height="6.5" fill="#505050"/>
<rect x="309.35" y="199.0" width="0.6" height="11.0" fill="#333"/>
<rect x="308.90" y="201.8" width="1.5" height="3.1" fill="#101010"/>
<rect x="311.17" y="205.0" width="0.6" height="7.0" fill="#333"/>
<rect x="310.72" y="206.3" width="1.5" height="3.4" fill="#101010"/>
<rect x="312.98" y="205.0" width="0.6" height="10.0" fill="#333"/>
<rect x="312.53" y="206.8" width="1.5" height="5.8" fill="#101010"/>
<rect x="314.80" y="204.0" width="0.6" height="16.0" fill="#333"/>
<rect x="314.35" y="207.0" width="1.5" height="8.5" fill="#505050"/>
<rect x="316.61" y="204.0" width="0.6" height="11.0" fill="#333"/>
<rect x="316.16" y="206.1" width="1.5" height="6.1" fill="#101010"/>
<rect x="318.43" y="205.0" width="0.6" height="13.0" fill="#333"/>
<rect x="317.98" y="206.3" width="1.5" height="7.2" fill="#101010"/>
<rect x="320.24" y="210.0" width="0.6" height="8.0" fill="#333"/>
<rect x="319.79" y="211.6" width="1.5" height="3.4" fill="#101010"/>
<rect x="322.05" y="212.0" width="0.6" height="12.0" fill="#333"/>
<rect x="321.60" y="212.8" width="1.5" height="6.9" fill="#101010"/>
<rect x="323.87" y="210.0" width="0.6" height="12.0" fill="#333"/>
<rect x="323.42" y="213.1" width="1.5" height="3.6" fill="#505050"/>
<rect x="325.68" y="205.0" width="0.6" height="17.0" fill="#333"/>
<rect x="325.23" y="205.4" width="1.5" height="8.9" fill="#505050"/>
<rect x="327.50" y="198.0" width="0.6" height="10.0" fill="#333"/>
<rect x="327.05" y="198.3" width="1.5" height="6.0" fill="#505050"/>
<rect x="329.31" y="188.0" width="0.6" height="12.0" fill="#333"/>
<rect x="328.86" y="188.9" width="1.5" height="5.5" fill="#505050"/>
<rect x="331.13" y="183.0" width="0.6" height="12.0" fill="#333"/>
<rect x="330.68" y="184.1" width="1.5" height="5.5" fill="#505050"/>
<rect x="332.94" y="175.0" width="0.6" height="15.0" fill="#333"/>
<rect x="332.49" y="181.2" width="1.5" height="5.4" fill="#505050"/>
<rect x="334.76" y="176.0" width="0.6" height="12.0" fill="#333"/>
<rect x="334.31" y="180.2" width="1.5" height="3.8" fill="#101010"/>
<rect x="336.57" y="178.0" width="0.6" height="12.0" fill="#333"/>
<rect x="336.12" y="182.4" width="1.5" height="3.2" fill="#101010"/>
<rect x="338.39" y="180.0" width="0.6" height="12.0" fill="#333"/>
<rect x="337.94" y="183.2" width="1.5" height="3.2" fill="#505050"/>
<rect x="340.20" y="175.0" width="0.6" height="15.0" fill="#333"/>
<rect x="339.75" y="180.1" width="1.5" height="6.7" fill="#505050"/>
<rect x="342.02" y="168.0" width="0.6" height="12.0" fill="#333"/>
<rect x="341.57" y="170.7" width="1.5" height="8.5" fill="#505050"/>
<rect x="343.83" y="163.0" width="0.6" height="12.0" fill="#333"/>
<rect x="343.38" y="166.8" width="1.5" height="6.0" fill="#505050"/>
<rect x="345.64" y="158.0" width="0.6" height="12.0" fill="#333"/>
<rect x="345.19" y="163.2" width="1.5" height="4.9" fill="#505050"/>
<rect x="347.46" y="158.0" width="0.6" height="10.0" fill="#333"/>
<rect x="347.01" y="159.7" width="1.5" height="5.4" fill="#505050"/>
<rect x="349.27" y="150.0" width="0.6" height="12.0" fill="#333"/>
<rect x="348.82" y="154.0" width="1.5" height="6.6" fill="#505050"/>
<rect x="351.09" y="143.0" width="0.6" height="15.0" fill="#333"/>
<rect x="350.64" y="147.4" width="1.5" height="8.9" fill="#505050"/>
<rect x="352.90" y="142.0" width="0.6" height="8.0" fill="#333"/>
<rect x="352.45" y="146.1" width="1.5" height="3.6" fill="#101010"/>
<rect x="354.72" y="143.0" width="0.6" height="17.0" fill="#333"/>
<rect x="354.27" y="146.9" width="1.5" height="8.1" fill="#101010"/>
<rect x="356.53" y="143.0" width="0.6" height="15.0" fill="#333"/>
<rect x="356.08" y="148.7" width="1.5" height="5.7" fill="#101010"/>
<rect x="358.35" y="150.0" width="0.6" height="10.0" fill="#333"/>
<rect x="357.90" y="151.3" width="1.5" height="3.0" fill="#101010"/>
<rect x="360.16" y="150.0" width="0.6" height="10.0" fill="#333"/>
<rect x="359.71" y="152.3" width="1.5" height="5.1" fill="#101010"/>
<rect x="361.98" y="153.0" width="0.6" height="9.0" fill="#333"/>
<rect x="361.53" y="156.2" width="1.5" height="3.9" fill="#101010"/>
<rect x="363.79" y="158.0" width="0.6" height="17.0" fill="#333"/>
<rect x="363.34" y="158.3" width="1.5" height="8.7" fill="#101010"/>
<rect x="365.60" y="160.0" width="0.6" height="15.0" fill="#333"/>
<rect x="365.15" y="167.0" width="1.5" height="7.3" fill="#101010"/>
<rect x="367.42" y="165.0" width="0.6" height="15.0" fill="#333"/>
<rect x="366.97" y="169.5" width="1.5" height="5.1" fill="#101010"/>
<rect x="369.23" y="172.0" width="0.6" height="18.0" fill="#333"/>
<rect x="368.78" y="173.7" width="1.5" height="10.7" fill="#101010"/>
<rect x="371.05" y="180.0" width="0.6" height="32.0" fill="#333"/>
<rect x="370.60" y="182.9" width="1.5" height="17.0" fill="#101010"/>
<rect x="372.86" y="200.0" width="0.6" height="18.0" fill="#333"/>
<rect x="372.41" y="200.4" width="1.5" height="10.6" fill="#101010"/>
<rect x="374.68" y="205.0" width="0.6" height="13.0" fill="#333"/>
<rect x="374.23" y="212.0" width="1.5" height="5.7" fill="#101010"/>
<rect x="376.49" y="207.0" width="0.6" height="19.0" fill="#333"/>
<rect x="376.04" y="209.5" width="1.5" height="11.2" fill="#101010"/>
<rect x="378.31" y="208.0" width="0.6" height="14.0" fill="#333"/>
<rect x="377.86" y="213.3" width="1.5" height="3.6" fill="#505050"/>
<rect x="380.12" y="210.0" width="0.6" height="10.0" fill="#333"/>
<rect x="379.67" y="212.3" width="1.5" height="4.2" fill="#505050"/>
<rect x="381.94" y="205.0" width="0.6" height="13.0" fill="#333"/>
<rect x="381.49" y="210.8" width="1.5" height="4.3" fill="#505050"/>
<rect x="383.75" y="207.0" width="0.6" height="8.0" fill="#333"/>
<rect x="383.30" y="210.2" width="1.5" height="2.1" fill="#505050"/>
<rect x="385.57" y="200.0" width="0.6" height="15.0" fill="#333"/>
<rect x="385.12" y="203.3" width="1.5" height="6.9" fill="#505050"/>
<rect x="387.38" y="195.0" width="0.6" height="10.0" fill="#333"/>
<rect x="386.93" y="199.0" width="1.5" height="4.8" fill="#505050"/>
<rect x="389.19" y="193.0" width="0.6" height="10.0" fill="#333"/>
<rect x="388.74" y="196.2" width="1.5" height="3.6" fill="#101010"/>
<rect x="391.01" y="195.0" width="0.6" height="10.0" fill="#333"/>
<rect x="390.56" y="198.6" width="1.5" height="4.4" fill="#101010"/>
<rect x="392.82" y="198.0" width="0.6" height="12.0" fill="#333"/>
<rect x="392.37" y="201.4" width="1.5" height="5.8" fill="#101010"/>
<rect x="394.64" y="200.0" width="0.6" height="12.0" fill="#333"/>
<rect x="394.19" y="203.8" width="1.5" height="6.7" fill="#101010"/>
<rect x="396.45" y="205.0" width="0.6" height="10.0" fill="#333"/>
<rect x="396.00" y="207.0" width="1.5" height="3.7" fill="#101010"/>
<rect x="398.27" y="205.0" width="0.6" height="11.0" fill="#333"/>
<rect x="397.82" y="209.8" width="1.5" height="3.4" fill="#505050"/>
<rect x="400.08" y="205.0" width="0.6" height="10.0" fill="#333"/>
<rect x="399.63" y="207.4" width="1.5" height="3.2" fill="#505050"/>
<rect x="401.90" y="200.0" width="0.6" height="18.0" fill="#333"/>
<rect x="401.45" y="205.7" width="1.5" height="10.1" fill="#101010"/>
<rect x="403.71" y="210.0" width="0.6" height="10.0" fill="#333"/>
<rect x="403.26" y="211.6" width="1.5" height="5.1" fill="#101010"/>
<rect x="405.53" y="210.0" width="0.6" height="17.0" fill="#333"/>
<rect x="405.08" y="217.1" width="1.5" height="5.2" fill="#101010"/>
<rect x="407.34" y="213.0" width="0.6" height="21.0" fill="#333"/>
<rect x="406.89" y="214.5" width="1.5" height="9.1" fill="#505050"/>
<rect x="409.16" y="208.0" width="0.6" height="12.0" fill="#333"/>
<rect x="408.71" y="213.6" width="1.5" height="6.1" fill="#505050"/>
<rect x="410.97" y="205.0" width="0.6" height="20.0" fill="#333"/>
<rect x="410.52" y="213.4" width="1.5" height="9.2" fill="#101010"/>
<rect x="412.78" y="215.0" width="0.6" height="13.0" fill="#333"/>
<rect x="412.33" y="217.7" width="1.5" height="6.4" fill="#101010"/>
<rect x="414.60" y="212.0" width="0.6" height="18.0" fill="#333"/>
<rect x="414.15" y="218.7" width="1.5" height="6.1" fill="#505050"/>
<rect x="416.41" y="215.0" width="0.6" height="10.0" fill="#333"/>
<rect x="415.96" y="217.6" width="1.5" height="3.1" fill="#505050"/>
<rect x="418.23" y="215.0" width="0.6" height="10.0" fill="#333"/>
<rect x="417.78" y="219.6" width="1.5" height="3.0" fill="#101010"/>
<rect x="420.04" y="218.0" width="0.6" height="12.0" fill="#333"/>
<rect x="419.59" y="222.3" width="1.5" height="5.4" fill="#101010"/>
<rect x="421.86" y="218.0" width="0.6" height="17.0" fill="#333"/>
<rect x="421.41" y="221.2" width="1.5" height="8.0" fill="#505050"/>
<rect x="423.67" y="215.0" width="0.6" height="10.0" fill="#333"/>
<rect x="423.22" y="219.6" width="1.5" height="4.9" fill="#505050"/>
<rect x="425.49" y="215.0" width="0.6" height="7.0" fill="#333"/>
<rect x="425.04" y="215.7" width="1.5" height="3.7" fill="#505050"/>
<rect x="427.30" y="210.0" width="0.6" height="10.0" fill="#333"/>
<rect x="426.85" y="214.3" width="1.5" height="4.3" fill="#505050"/>
<rect x="429.12" y="187.0" width="0.6" height="31.0" fill="#333"/>
<rect x="428.67" y="190.0" width="1.5" height="26.0" fill="#505050"/>
<rect x="430.93" y="190.0" width="0.6" height="10.0" fill="#333"/>
<rect x="430.48" y="194.6" width="1.5" height="5.1" fill="#505050"/>
<rect x="432.75" y="193.0" width="0.6" height="7.0" fill="#333"/>
<rect x="432.30" y="195.2" width="1.5" height="2.1" fill="#101010"/>
<rect x="434.56" y="195.0" width="0.6" height="7.0" fill="#333"/>
<rect x="434.11" y="197.0" width="1.5" height="3.6" fill="#101010"/>
<rect x="436.37" y="197.0" width="0.6" height="11.0" fill="#333"/>
<rect x="435.92" y="198.8" width="1.5" height="5.6" fill="#101010"/>
<rect x="438.19" y="202.0" width="0.6" height="8.0" fill="#333"/>
<rect x="437.74" y="204.5" width="1.5" height="3.4" fill="#101010"/>
<rect x="440.00" y="205.0" width="0.6" height="5.0" fill="#333"/>
<rect x="439.55" y="206.3" width="1.5" height="2.3" fill="#101010"/>
<rect x="441.82" y="205.0" width="0.6" height="10.0" fill="#333"/>
<rect x="441.37" y="209.1" width="1.5" height="5.6" fill="#101010"/>
<rect x="443.63" y="210.0" width="0.6" height="60.0" fill="#333"/>
<rect x="443.18" y="212.0" width="1.5" height="54.0" fill="#101010"/>
<rect x="445.45" y="252.0" width="0.6" height="10.0" fill="#333"/>
<rect x="445.00" y="254.7" width="1.5" height="3.2" fill="#505050"/>
<rect x="447.26" y="250.0" width="0.6" height="8.0" fill="#333"/>
<rect x="446.81" y="253.4" width="1.5" height="4.1" fill="#101010"/>
<rect x="449.08" y="253.0" width="0.6" height="9.0" fill="#333"/>
<rect x="448.63" y="254.9" width="1.5" height="4.1" fill="#101010"/>
<rect x="450.89" y="255.0" width="0.6" height="14.0" fill="#333"/>
<rect x="450.44" y="256.3" width="1.5" height="3.9" fill="#101010"/>
<rect x="452.71" y="245.0" width="0.6" height="15.0" fill="#333"/>
<rect x="452.26" y="250.2" width="1.5" height="9.5" fill="#505050"/>
<rect x="454.52" y="239.0" width="0.6" height="16.0" fill="#333"/>
<rect x="454.07" y="246.5" width="1.5" height="7.8" fill="#505050"/>
<rect x="456.33" y="245.0" width="0.6" height="10.0" fill="#333"/>
<rect x="455.88" y="246.2" width="1.5" height="4.4" fill="#101010"/>
<rect x="458.15" y="243.0" width="0.6" height="12.0" fill="#333"/>
<rect x="457.70" y="247.9" width="1.5" height="5.0" fill="#101010"/>
<rect x="459.96" y="245.0" width="0.6" height="11.0" fill="#333"/>
<rect x="459.51" y="246.9" width="1.5" height="6.2" fill="#505050"/>
<rect x="461.78" y="242.0" width="0.6" height="13.0" fill="#333"/>
<rect x="461.33" y="245.0" width="1.5" height="7.7" fill="#505050"/>
<rect x="463.59" y="246.0" width="0.6" height="10.0" fill="#333"/>
<rect x="463.14" y="250.4" width="1.5" height="3.3" fill="#101010"/>
<rect x="465.41" y="250.0" width="0.6" height="8.0" fill="#333"/>
<rect x="464.96" y="250.3" width="1.5" height="4.3" fill="#505050"/>
<rect x="467.22" y="248.0" width="0.6" height="8.0" fill="#333"/>
<rect x="466.77" y="249.8" width="1.5" height="2.8" fill="#505050"/>
<rect x="469.04" y="245.0" width="0.6" height="18.0" fill="#333"/>
<rect x="468.59" y="245.5" width="1.5" height="10.5" fill="#101010"/>
<rect x="470.85" y="243.0" width="0.6" height="15.0" fill="#333"/>
<rect x="470.40" y="247.9" width="1.5" height="6.9" fill="#505050"/>
<rect x="472.67" y="245.0" width="0.6" height="13.0" fill="#333"/>
<rect x="472.22" y="248.2" width="1.5" height="5.7" fill="#101010"/>
<rect x="474.48" y="248.0" width="0.6" height="14.0" fill="#333"/>
<rect x="474.03" y="254.3" width="1.5" height="4.3" fill="#101010"/>
<rect x="476.30" y="240.0" width="0.6" height="23.0" fill="#333"/>
<rect x="475.85" y="248.6" width="1.5" height="10.0" fill="#505050"/>
<rect x="478.11" y="240.0" width="0.6" height="15.0" fill="#333"/>
<rect x="477.66" y="246.6" width="1.5" height="7.5" fill="#101010"/>
<rect x="479.92" y="245.0" width="0.6" height="13.0" fill="#333"/>
<rect x="479.47" y="246.5" width="1.5" height="7.3" fill="#101010"/>
<rect x="481.74" y="248.0" width="0.6" height="8.0" fill="#333"/>
<rect x="481.29" y="250.9" width="1.5" height="2.1" fill="#101010"/>
<rect x="483.55" y="249.0" width="0.6" height="7.0" fill="#333"/>
<rect x="483.10" y="251.1" width="1.5" height="3.0" fill="#101010"/>
<rect x="485.37" y="244.0" width="0.6" height="16.0" fill="#333"/>
<rect x="484.92" y="250.2" width="1.5" height="5.8" fill="#505050"/>
<rect x="487.18" y="248.0" width="0.6" height="10.0" fill="#333"/>
<rect x="486.73" y="249.5" width="1.5" height="3.8" fill="#101010"/>
<rect x="489.00" y="247.0" width="0.6" height="8.0" fill="#333"/>
<rect x="488.55" y="249.1" width="1.5" height="4.4" fill="#505050"/>
<rect x="490.81" y="245.0" width="0.6" height="11.0" fill="#333"/>
<rect x="490.36" y="246.4" width="1.5" height="5.7" fill="#505050"/>
<rect x="492.63" y="245.0" width="0.6" height="10.0" fill="#333"/>
<rect x="492.18" y="248.4" width="1.5" height="3.0" fill="#505050"/>
<rect x="494.44" y="238.0" width="0.6" height="14.0" fill="#333"/>
<rect x="493.99" y="243.6" width="1.5" height="7.0" fill="#505050"/>
<rect x="496.26" y="233.0" width="0.6" height="15.0" fill="#333"/>
<rect x="495.81" y="240.1" width="1.5" height="5.4" fill="#505050"/>
<rect x="498.07" y="228.0" width="0.6" height="14.0" fill="#333"/>
<rect x="497.62" y="233.6" width="1.5" height="5.5" fill="#505050"/>
<rect x="499.89" y="225.0" width="0.6" height="11.0" fill="#333"/>
<rect x="499.44" y="231.1" width="1.5" height="4.6" fill="#505050"/>
<rect x="501.70" y="221.5" width="0.6" height="10.5" fill="#333"/>
<rect x="501.25" y="223.0" width="1.5" height="6.7" fill="#505050"/>
<rect x="503.51" y="218.0" width="0.6" height="10.0" fill="#333"/>
<rect x="503.06" y="218.3" width="1.5" height="4.5" fill="#505050"/>
<rect x="507.14" y="160.0" width="0.6" height="21.0" fill="#333"/>
<rect x="506.69" y="166.0" width="1.5" height="14.0" fill="#101010"/>
<rect x="508.96" y="165.0" width="0.6" height="21.0" fill="#333"/>
<rect x="508.51" y="170.0" width="1.5" height="14.0" fill="#101010"/>
<rect x="510.77" y="166.0" width="0.6" height="16.0" fill="#333"/>
<rect x="510.32" y="170.0" width="1.5" height="8.0" fill="#505050"/>
<rect x="512.59" y="170.0" width="0.6" height="20.0" fill="#333"/>
<rect x="512.14" y="174.0" width="1.5" height="12.0" fill="#101010"/>
<rect x="514.40" y="164.0" width="0.6" height="24.0" fill="#333"/>
<rect x="513.95" y="171.0" width="1.5" height="11.0" fill="#101010"/>
<rect x="516.22" y="172.0" width="0.6" height="18.0" fill="#333"/>
<rect x="515.77" y="176.0" width="1.5" height="8.0" fill="#505050"/>
<rect x="518.03" y="163.6" width="0.6" height="21.5" fill="#333"/>
<rect x="517.58" y="174.9" width="1.5" height="9.0" fill="#505050"/>
<rect x="352.2" y="142.8" width="7.3" height="1.2" fill="#151515"/>
<rect x="356.2" y="158.9" width="6.8" height="1.2" fill="#151515"/>
<rect x="505.6" y="185" width="4.2" height="31" fill="#b9c1ea"/>
<rect x="505.6" y="160.5" width="0.8" height="53.5" fill="#4a4a4a"/>
<text x="648.4" y="22.5" font-size="6.3" fill="#b2b2ba" textLength="12.8" lengthAdjust="spacingAndGlyphs">USDT</text>
<text x="648.6" y="36.30" font-size="6.3" fill="#b2b2ba" textLength="20.6" lengthAdjust="spacingAndGlyphs">1380.00</text>
<text x="648.6" y="65.50" font-size="6.3" fill="#b2b2ba" textLength="20.6" lengthAdjust="spacingAndGlyphs">1360.00</text>
<text x="648.6" y="94.70" font-size="6.3" fill="#b2b2ba" textLength="20.6" lengthAdjust="spacingAndGlyphs">1340.00</text>
<text x="648.6" y="123.90" font-size="6.3" fill="#b2b2ba" textLength="20.6" lengthAdjust="spacingAndGlyphs">1320.00</text>
<text x="648.6" y="153.10" font-size="6.3" fill="#b2b2ba" textLength="20.6" lengthAdjust="spacingAndGlyphs">1300.00</text>
<text x="648.6" y="211.50" font-size="6.3" fill="#b2b2ba" textLength="20.6" lengthAdjust="spacingAndGlyphs">1260.00</text>
<text x="648.6" y="240.70" font-size="6.3" fill="#b2b2ba" textLength="20.6" lengthAdjust="spacingAndGlyphs">1240.00</text>
<text x="648.6" y="269.90" font-size="6.3" fill="#b2b2ba" textLength="20.6" lengthAdjust="spacingAndGlyphs">1220.00</text>
<text x="648.6" y="299.10" font-size="6.3" fill="#b2b2ba" textLength="20.6" lengthAdjust="spacingAndGlyphs">1200.00</text>
<text x="648.6" y="328.30" font-size="6.3" fill="#b2b2ba" textLength="20.6" lengthAdjust="spacingAndGlyphs">1180.00</text>
<text x="648.6" y="357.50" font-size="6.3" fill="#b2b2ba" textLength="20.6" lengthAdjust="spacingAndGlyphs">1160.00</text>
<rect x="643" y="131.8" width="29.2" height="8.1" fill="#ff9800"/>
<text x="648.6" y="138.80" font-size="6.5" fill="#1a1a1a" textLength="20.4" lengthAdjust="spacingAndGlyphs">1309.89</text>
<rect x="643" y="186.6" width="29.2" height="8.2" fill="#ff9800"/>
<text x="648.6" y="193.65" font-size="6.5" fill="#1a1a1a" textLength="20.4" lengthAdjust="spacingAndGlyphs">1276.01</text>
<rect x="643" y="305.2" width="29.2" height="8.2" fill="#ff9800"/>
<text x="648.6" y="312.25" font-size="6.5" fill="#1a1a1a" textLength="20.4" lengthAdjust="spacingAndGlyphs">1191.66</text>
<rect x="643" y="365.1" width="29.2" height="8.2" fill="#ff9800"/>
<text x="648.6" y="372.15" font-size="6.5" fill="#1a1a1a" textLength="20.4" lengthAdjust="spacingAndGlyphs">1150.54</text>
<rect x="643.2" y="171" width="29" height="15.6" fill="#ffffff"/>
<text x="648.8" y="178.1" font-size="6.6" fill="#222" textLength="20.2" lengthAdjust="spacingAndGlyphs">1283.15</text>
<text x="648.2" y="184.5" font-size="6.6" fill="#333" textLength="14.5" lengthAdjust="spacingAndGlyphs">25:32</text>
<text x="23.4" y="382.6" font-size="5.6" fill="#a8a8b0" text-anchor="middle">28</text>
<text x="67.0" y="382.6" font-size="5.6" fill="#a8a8b0" text-anchor="middle">29</text>
<text x="110.6" y="382.6" font-size="5.6" fill="#a8a8b0" text-anchor="middle">30</text>
<text x="155.0" y="382.6" font-size="5.6" fill="#a8a8b0" text-anchor="middle">12月</text>
<text x="197.8" y="382.6" font-size="5.6" fill="#a8a8b0" text-anchor="middle">2</text>
<text x="241.4" y="382.6" font-size="5.6" fill="#a8a8b0" text-anchor="middle">3</text>
<text x="285.0" y="382.6" font-size="5.6" fill="#a8a8b0" text-anchor="middle">4</text>
<text x="328.6" y="382.6" font-size="5.6" fill="#a8a8b0" text-anchor="middle">5</text>
<text x="372.2" y="382.6" font-size="5.6" fill="#a8a8b0" text-anchor="middle">6</text>
<text x="415.8" y="382.6" font-size="5.6" fill="#a8a8b0" text-anchor="middle">7</text>
<text x="459.4" y="382.6" font-size="5.6" fill="#a8a8b0" text-anchor="middle">8</text>
<text x="503.0" y="382.6" font-size="5.6" fill="#a8a8b0" text-anchor="middle">9</text>
<text x="546.6" y="382.6" font-size="5.6" fill="#a8a8b0" text-anchor="middle">10</text>
<text x="590.2" y="382.6" font-size="5.6" fill="#a8a8b0" text-anchor="middle">11</text>
<text x="633.8" y="382.6" font-size="5.6" fill="#a8a8b0" text-anchor="middle">12</text>
<g fill="#131722" transform="translate(5,392.96) scale(0.26)"><path d="M14 22H7V11H0V4h14v18zM28 22h-8l7.5-18h8L28 22z"/><circle cx="20" cy="8" r="4"/></g>
<text x="17.2" y="398.7" font-size="6.6" fill="#2a2e39" textLength="34.2" lengthAdjust="spacingAndGlyphs">TradingView</text>
</svg></body></html>
